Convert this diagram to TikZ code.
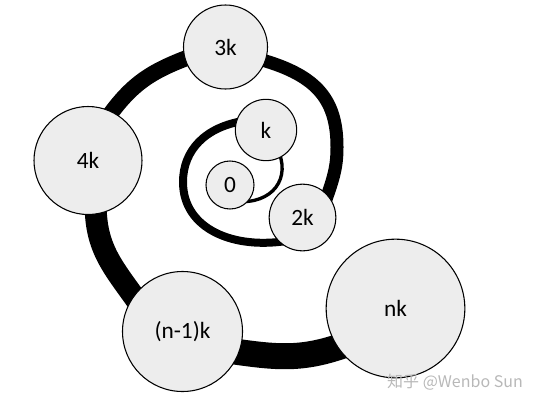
\documentclass[tikz,border=0pt]{standalone}
\usepackage{fontspec}
\setmainfont{Carlito}
\newfontfamily\cjk{Noto Sans CJK SC}
\usetikzlibrary{backgrounds}
\begin{document}
\begin{tikzpicture}[x=0.75pt, y=0.75pt,
  ball/.style={circle, draw, line width=0.8pt, fill=black!7, inner sep=0pt,
    minimum size=#1, font=\fontsize{17.5}{20}\selectfont},
  band/.style={line width=#1, shorten <=-8pt, shorten >=-8pt}]
  \useasboundingbox (0,0) rectangle (534,405);
  \node[ball=36pt] (n0) at (230,220) {0};
  \node[ball=46pt] (n1) at (266,275) {k};
  \node[ball=50pt] (n2) at (302.5,187.5) {2k};
  \node[ball=63pt] (n3) at (225.5,358) {3k};
  \node[ball=81pt] (n4) at (88,244.5) {4k};
  \node[ball=90pt] (nn1) at (182.5,73.5) {(n-1)k};
  \node[ball=104pt] (nn) at (395.5,96.5) {nk};
  \coordinate (b1) at (183,223);
  \coordinate (c1) at (337,258);
  \begin{pgfonlayer}{background}
    \draw[band=2.5pt] (n0.-45) to[out=-5, in=-63, looseness=1.1] (n1.-60);
    \draw[band=6pt] (n1.165) to[out=188, in=90] (b1) to[out=-90, in=190, looseness=1.05] (n2.227);
    \draw[band=9.75pt] (n2.42) to[out=70, in=-90] (c1) to[out=90, in=-15, looseness=1.15] (n3.-19);
    \draw[band=12pt] (n3.196) to[out=200, in=55] (n4.64);
    \draw[band=16.5pt] (n4.-82) to[out=-90, in=125] (nn1.144);
    \draw[band=19.5pt] (nn1.-20) to[out=-8, in=200] (nn.214);
  \end{pgfonlayer}
  \node[text=black!28, font=\cjk\fontsize{12}{14}\selectfont] (mark) at (455,22.5) {知乎 @Wenbo Sun};
\end{tikzpicture}
\end{document}
